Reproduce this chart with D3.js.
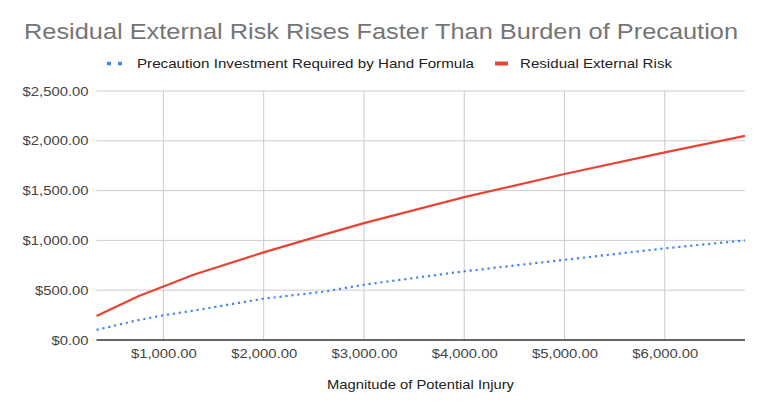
<!DOCTYPE html>
<html><head><meta charset="utf-8">
<script src="https://cdn.jsdelivr.net/npm/d3@7"></script>
<style>body{margin:0;background:#fff;} svg{display:block;font-family:"Liberation Sans",Arial,sans-serif;}</style>
</head><body>
<svg id="c" width="768" height="415"></svg>
<script>
const injury = [333, 750, 1000, 1300, 2000, 2600, 3000, 4000, 5000, 6000, 6800];
const precaution = [102, 200, 248, 295, 415, 485, 555, 690, 805, 920, 1000];
const residual = [242, 440, 537, 655, 880, 1058, 1174, 1434, 1667, 1884, 2050];
const xTicks = [1000, 2000, 3000, 4000, 5000, 6000];
const yTicks = [0, 500, 1000, 1500, 2000, 2500];
const seriesNames = ["Precaution Investment Required by Hand Formula", "Residual External Risk"];

const svg = d3.select("#c");
const L = 96.5, R = 745, T = 91, B = 340;
const x = d3.scaleLinear().domain([333, 6800]).range([L, R]);
const y = d3.scaleLinear().domain([0, 2500]).range([B, T]);
const fmt = v => "$" + d3.format(",.2f")(v);

svg.append("text").attr("class", "st").attr("data-w", 714).attr("x", 24).attr("y", 39).attr("font-size", 21.5).attr("fill", "#757575").text("Residual External Risk Rises Faster Than Burden of Precaution");

// grid
const g = svg.append("g");
g.selectAll(".hy").data(yTicks.filter(d => d > 0)).enter().append("line")
  .attr("x1", L).attr("x2", R).attr("y1", d => y(d)).attr("y2", d => y(d)).attr("stroke", "#cccccc").attr("stroke-width", 1);
g.selectAll(".vx").data(xTicks).enter().append("line")
  .attr("y1", T).attr("y2", B).attr("x1", d => x(d)).attr("x2", d => x(d)).attr("stroke", "#cccccc").attr("stroke-width", 1);

// axes (labels via d3 axes)
const yAxis = svg.append("g").attr("transform", `translate(${L - 8},0)`)
  .call(d3.axisLeft(y).tickValues(yTicks).tickFormat(fmt).tickSize(0).tickPadding(0));
yAxis.select(".domain").remove();
yAxis.selectAll("text").attr("class", "st").attr("font-size", 13).attr("fill", "#444").attr("font-family", "Liberation Sans, Arial, sans-serif");

const xAxis = svg.append("g").attr("transform", `translate(0,${B})`)
  .call(d3.axisBottom(x).tickValues(xTicks).tickFormat(fmt).tickSize(0).tickPadding(9));
xAxis.select(".domain").remove();
xAxis.selectAll("text").attr("class", "st").attr("font-size", 13).attr("fill", "#444").attr("font-family", "Liberation Sans, Arial, sans-serif");

svg.append("line").attr("x1", L).attr("x2", R).attr("y1", B).attr("y2", B).attr("stroke", "#333").attr("stroke-width", 1.5);

svg.append("text").attr("class", "st").attr("data-w", 187).attr("x", 420.5).attr("y", 389).attr("text-anchor", "middle").attr("font-size", 13.5).attr("fill", "#222").text("Magnitude of Potential Injury");

// lines
const line = vals => d3.line().x((d, i) => x(injury[i])).y(d => y(d))(vals);
svg.append("path").attr("d", line(precaution)).attr("fill", "none").attr("stroke", "#4285F4").attr("stroke-width", 2.2).attr("stroke-dasharray", "2.2,3.8");
svg.append("path").attr("d", line(residual)).attr("fill", "none").attr("stroke", "#EA4335").attr("stroke-width", 2.2).attr("stroke-linejoin", "round");

// legend
const lg = svg.append("g");
lg.append("line").attr("x1", 107).attr("x2", 123).attr("y1", 63.5).attr("y2", 63.5).attr("stroke", "#4285F4").attr("stroke-width", 3.5).attr("stroke-dasharray", "4,7");
lg.append("text").attr("class", "st").attr("data-w", 337).attr("x", 137).attr("y", 67.5).attr("font-size", 13.5).attr("fill", "#222").text(seriesNames[0]);
lg.append("line").attr("x1", 495).attr("x2", 508).attr("y1", 63.5).attr("y2", 63.5).attr("stroke", "#EA4335").attr("stroke-width", 4);
lg.append("text").attr("class", "st").attr("data-w", 152).attr("x", 520).attr("y", 67.5).attr("font-size", 13.5).attr("fill", "#222").text(seriesNames[1]);

// widen text to match reference glyph widths
svg.selectAll("text.st").each(function() {
  const el = d3.select(this);
  const w = this.getComputedTextLength();
  const target = el.attr("data-w") ? +el.attr("data-w") : w * 1.14;
  el.attr("textLength", target).attr("lengthAdjust", "spacingAndGlyphs");
});
</script>
</body></html>
